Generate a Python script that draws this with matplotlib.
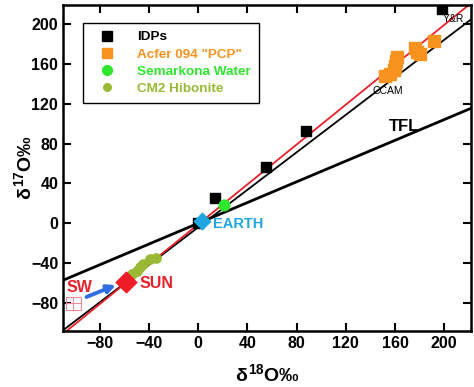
import numpy as np
import matplotlib.pyplot as plt
from matplotlib.lines import Line2D

plt.rcParams['font.family'] = ['Liberation Sans', 'DejaVu Sans']
plt.rcParams['mathtext.fontset'] = 'custom'
plt.rcParams['mathtext.rm'] = 'Liberation Sans:bold'
plt.rcParams['mathtext.bf'] = 'Liberation Sans:bold'
plt.rcParams['mathtext.it'] = 'Liberation Sans:bold'

# data
idp_x = [0, 14, 55, 88, 198]
idp_y = [0, 25, 56, 93, 215]
acfer_x = [152, 156, 159, 160, 161, 162, 176, 178, 180, 192]
acfer_y = [148, 150, 154, 158, 163, 167, 176, 172, 170, 183]
sema_x = [21]
sema_y = [18]
hib_x = [-54, -50, -47, -45, -39, -34]
hib_y = [-51, -48, -44, -41, -36, -35]
earth = (3, 2)
sun = (-59, -59)

# reference lines: slope, intercept
tfl = (0.52, 0.0)
ccam = (0.94, -4.0)
yr = (1.00, -1.0)

x1, x2 = -110, 222
y1, y2 = -108, 219

fig = plt.figure(figsize=(4.74, 3.87), dpi=100)
ax = fig.add_axes([0.133, 0.145, 0.861, 0.842])

xx = np.linspace(x1, x2, 200)
ax.plot(xx, tfl[0] * xx + tfl[1], color='k', lw=2, zorder=2)
ax.plot(xx, ccam[0] * xx + ccam[1], color='k', lw=1.3, zorder=2)
ax.plot(xx, yr[0] * xx + yr[1], color='#e8202a', lw=1.3, zorder=2)

ax.scatter(idp_x, idp_y, marker='s', s=55, color='k', zorder=4)
ax.scatter(acfer_x, acfer_y, marker='s', s=70, color='#f7931e', zorder=4)
ax.scatter(sema_x, sema_y, marker='o', s=60, color='#2de62d', zorder=4)
ax.scatter(hib_x, hib_y, marker='o', s=45, color='#9aba35', zorder=4)
ax.scatter(*earth, marker='D', s=70, color='#1fa6e0', zorder=5)
ax.scatter(*sun, marker='D', s=110, color='#ee1c25', zorder=5)

ax.text(12, -1, 'EARTH', color='#1fa6e0', fontsize=10.5, fontweight='bold', va='center')
ax.text(-48, -60, 'SUN', color='#e8202a', fontsize=11.5, fontweight='bold', va='center')
ax.text(-107, -64, 'SW', color='#e8202a', fontsize=11.5, fontweight='bold', va='center')
ax.text(142, 133, 'CCAM', color='k', fontsize=7.5, va='center')
ax.text(199, 205, 'Y&R', color='k', fontsize=7.5, va='center')
ax.text(155, 97, 'TFL', color='k', fontsize=12, fontweight='bold', va='center')

ax.annotate('', xy=(-65, -61), xytext=(-93, -75),
            arrowprops=dict(arrowstyle='-|>', color='#2f6fe0', lw=2.8,
                            mutation_scale=12))

# small grid box near SW
bx, by, bw, bh = -108, -87, 13, 13
ax.add_patch(plt.Rectangle((bx, by), bw, bh, fill=False, ec='#f08a9a', lw=0.8, zorder=3))
ax.plot([bx + bw / 2, bx + bw / 2], [by, by + bh], color='#f08a9a', lw=0.8, zorder=3)
ax.plot([bx, bx + bw], [by + bh / 2, by + bh / 2], color='#f08a9a', lw=0.8, zorder=3)

ax.set_xlim(x1, x2)
ax.set_ylim(y1, y2)
ax.set_xticks(np.arange(-80, 201, 40))
ax.set_yticks(np.arange(-80, 201, 40))
ax.tick_params(direction='in', top=True, right=True, length=6, width=1.5,
               labelsize=11.5)
for lab in ax.get_xticklabels() + ax.get_yticklabels():
    lab.set_fontweight('bold')
for s in ax.spines.values():
    s.set_linewidth(1.8)

ax.set_xlabel(r'$\delta^{18}$O‰', fontsize=14, fontweight='bold', labelpad=9)
ax.set_ylabel(r'$\delta^{17}$O‰', fontsize=14, fontweight='bold', labelpad=-3)

labels = ['IDPs', 'Acfer 094 "PCP"', 'Semarkona Water', 'CM2 Hibonite']
cols = ['k', '#f7931e', '#2de62d', '#9aba35']
marks = ['s', 's', 'o', 'o']
msz = [7, 7, 7, 5.5]
handles = [Line2D([], [], ls='none', marker=m, ms=s, color=c)
           for m, s, c in zip(marks, msz, cols)]
leg = ax.legend(handles, labels, loc='upper left', bbox_to_anchor=(0.049, 0.945),
                borderaxespad=0, fancybox=False, edgecolor='k', framealpha=1,
                fontsize=9.7, handletextpad=1.0, handlelength=2.4, borderpad=0.6,
                labelspacing=0.35)
leg.get_frame().set_linewidth(1.0)
for t, c in zip(leg.get_texts(), cols):
    t.set_color(c)
    t.set_fontweight('bold')

fig.savefig('out.png', dpi=100)
